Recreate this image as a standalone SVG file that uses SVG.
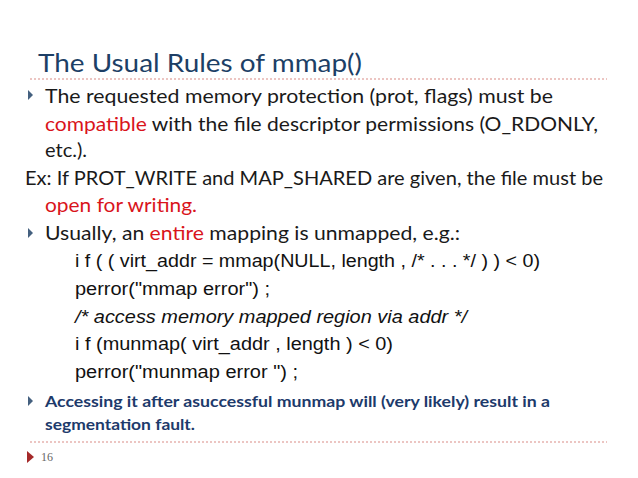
<svg xmlns="http://www.w3.org/2000/svg" width="638" height="478" viewBox="0 0 638 478">
<style>
.t{font-family:Lato,"Open Sans",sans-serif;font-size:19px;fill:#1a1a1a}
.r{fill:#d9141b}
.c{font-family:"Liberation Sans",Arial,sans-serif;font-size:17.5px;fill:#111}
.b{font-family:Lato,"Open Sans",sans-serif;font-size:15.5px;font-weight:bold;fill:#1d3a6b}
.bul{fill:#44607f}
.dl{stroke:#d98b85;stroke-width:1;stroke-dasharray:2 2}
</style>
<rect width="638" height="478" fill="#fff"/>
<text x="38" y="72" font-family="Lato,'Open Sans',sans-serif" font-size="25" fill="#1d3f66" textLength="324" lengthAdjust="spacingAndGlyphs">The Usual Rules of mmap()</text>
<line class="dl" x1="30" y1="79" x2="607" y2="79"/>
<polygon class="bul" points="28,90 28,100 33,95"/>
<text class="t" x="45" y="103" textLength="508" lengthAdjust="spacingAndGlyphs">The requested memory protection (prot, flags) must be</text>
<text class="t" x="45" y="131" textLength="553" lengthAdjust="spacingAndGlyphs"><tspan class="r">compatible</tspan> with the file descriptor permissions (O_RDONLY,</text>
<text class="t" x="45" y="157" textLength="42" lengthAdjust="spacingAndGlyphs">etc.).</text>
<text class="t" x="25" y="185" textLength="578" lengthAdjust="spacingAndGlyphs">Ex: If PROT_WRITE and MAP_SHARED are given, the file must be</text>
<text class="t r" x="45" y="212" textLength="152" lengthAdjust="spacingAndGlyphs">open for writing.</text>
<polygon class="bul" points="28,228 28,238 33,233"/>
<text class="t" x="45" y="240" textLength="415" lengthAdjust="spacingAndGlyphs">Usually, an <tspan class="r">entire</tspan> mapping is unmapped, e.g.:</text>
<text class="c" x="75" y="267" textLength="465" lengthAdjust="spacingAndGlyphs">i f ( ( virt_addr = mmap(NULL, length , /* . . . */ ) ) &lt; 0)</text>
<text class="c" x="75" y="295" textLength="195" lengthAdjust="spacingAndGlyphs">perror("mmap error") ;</text>
<text class="c" x="75" y="323" font-style="italic" textLength="392" lengthAdjust="spacingAndGlyphs">/* access memory mapped region via addr */</text>
<text class="c" x="75" y="350" textLength="318" lengthAdjust="spacingAndGlyphs">i f (munmap( virt_addr , length ) &lt; 0)</text>
<text class="c" x="75" y="378" textLength="223" lengthAdjust="spacingAndGlyphs">perror("munmap error ") ;</text>
<polygon class="bul" points="28,396 28,406 33,401"/>
<text class="b" x="45" y="407" textLength="505" lengthAdjust="spacingAndGlyphs">Accessing it after asuccessful munmap will (very likely) result in a</text>
<text class="b r" x="45" y="430" textLength="150" lengthAdjust="spacingAndGlyphs">segmentation fault.</text>
<line class="dl" x1="30" y1="442" x2="607" y2="442"/>
<polygon points="27,451 27,463 34,457" fill="#a52a2a"/>
<text x="41" y="461" font-family="'Liberation Serif',serif" font-size="12" fill="#666">16</text>
</svg>
